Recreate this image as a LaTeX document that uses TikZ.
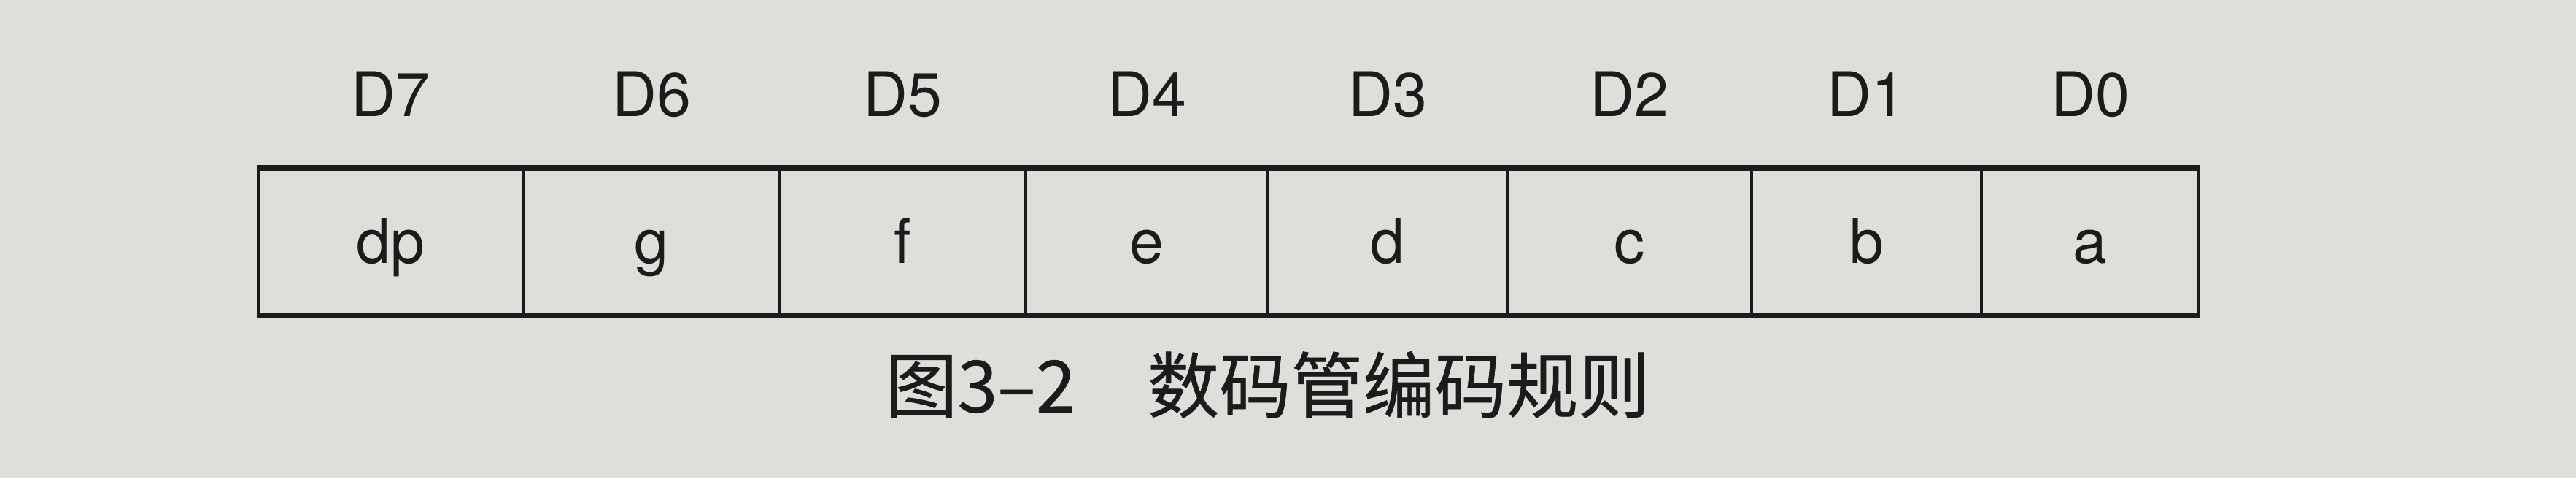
\documentclass[tikz,border=0pt]{standalone}
\usepackage{fontspec}
\setmainfont{TeX Gyre Heros}
\newfontfamily\cjk[FakeBold=0.6]{Noto Sans CJK SC}
\usepackage{xcolor}
\usetikzlibrary{positioning}
\definecolor{paper}{RGB}{222,222,219}
\definecolor{ink}{RGB}{28,26,26}
\tikzset{
  cell/.style={draw=ink, line width=1.2pt, minimum height=1.98cm, inner sep=0pt,
    text height=0.78cm, text depth=0.2cm, text=ink, font=\fontsize{24}{28}\selectfont},
  bitlab/.style={anchor=base, text=ink, inner sep=0pt, font=\fontsize{24}{28}\selectfont},
  caption/.style={text=ink, inner sep=0pt, font=\cjk\fontsize{28}{32}\selectfont}
}

\begin{document}
\begin{tikzpicture}
\fill[paper] (0,0) rectangle (35.31,6.55);
\useasboundingbox (0,0) rectangle (35.31,6.55);
% segment cells, D7 (dp) on the left down to D0 (a)
\foreach \bit/\xl/\xr/\seg in {7/3.54/7.17/dp, 6/7.17/10.69/g, 5/10.69/14.06/f, 4/14.06/17.38/e,
    3/17.38/20.66/d, 2/20.66/24.01/c, 1/24.01/27.16/b, 0/27.16/30.14/a} {
    \pgfmathsetmacro{\cellw}{\xr-\xl}
    \node[cell, minimum width=\cellw cm] (c\bit) at ({(\xl+\xr)/2},3.24) {\seg};
    \node[bitlab] (d\bit) at ([yshift=0.70cm]c\bit.north) {D\bit};
}
\draw[ink, line width=2pt] (c7.north west) -- (c0.north east);
\draw[ink, line width=2pt] (c7.south west) -- (c0.south east);
\node[caption] (cap) at (17.38,1.28) {图3–2　数码管编码规则};
\end{tikzpicture}
\end{document}
